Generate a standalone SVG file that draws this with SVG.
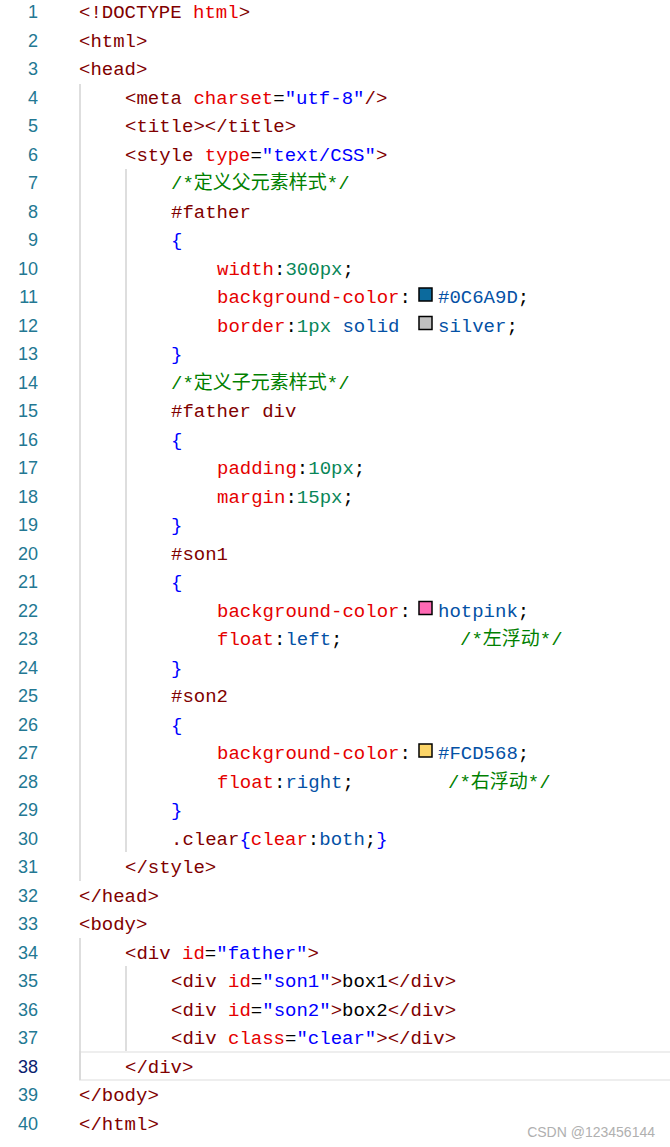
<svg xmlns="http://www.w3.org/2000/svg" width="670" height="1147" viewBox="0 0 670 1147">
<style>
text{font-family:"Liberation Mono","Noto Sans CJK SC",monospace;font-size:19px;white-space:pre}
.n{fill:#237893;font-family:"Liberation Sans",sans-serif;font-size:18px;text-anchor:end}
.t{fill:#800000}.a{fill:#e50000}.s{fill:#0000ff}.c{fill:#008000}.v{fill:#098658}.k{fill:#0451a5}.d{fill:#000}
.g{stroke:#d3d3d3;stroke-width:1.5}
.sw{stroke:#000;stroke-width:1.5}
</style>
<rect width="670" height="1147" fill="#fff"/>
<g id="highlight"><rect x="80" y="1052" width="592" height="28" fill="none" stroke="#eeeeee" stroke-width="2"/></g>
<g id="guides">
<line class="g" x1="80" y1="84" x2="80" y2="881"/>
<line class="g" x1="126" y1="169" x2="126" y2="852"/>
<line class="g" x1="80" y1="938" x2="80" y2="1080"/>
<line class="g" x1="126" y1="966" x2="126" y2="1051"/>
</g>
<g id="numbers">
<text class="n" x="38" y="18">1</text><text class="n" x="38" y="46.5">2</text><text class="n" x="38" y="75">3</text><text class="n" x="38" y="103.5">4</text><text class="n" x="38" y="132">5</text><text class="n" x="38" y="160.5">6</text><text class="n" x="38" y="189">7</text><text class="n" x="38" y="217.5">8</text><text class="n" x="38" y="246">9</text><text class="n" x="38" y="274.5">10</text><text class="n" x="38" y="303">11</text><text class="n" x="38" y="331.5">12</text><text class="n" x="38" y="360">13</text><text class="n" x="38" y="388.5">14</text><text class="n" x="38" y="417">15</text><text class="n" x="38" y="445.5">16</text><text class="n" x="38" y="474">17</text><text class="n" x="38" y="502.5">18</text><text class="n" x="38" y="531">19</text><text class="n" x="38" y="559.5">20</text><text class="n" x="38" y="588">21</text><text class="n" x="38" y="616.5">22</text><text class="n" x="38" y="645">23</text><text class="n" x="38" y="673.5">24</text><text class="n" x="38" y="702">25</text><text class="n" x="38" y="730.5">26</text><text class="n" x="38" y="759">27</text><text class="n" x="38" y="787.5">28</text><text class="n" x="38" y="816">29</text><text class="n" x="38" y="844.5">30</text><text class="n" x="38" y="873">31</text><text class="n" x="38" y="901.5">32</text><text class="n" x="38" y="930">33</text><text class="n" x="38" y="958.5">34</text><text class="n" x="38" y="987">35</text><text class="n" x="38" y="1015.5">36</text><text class="n" x="38" y="1044">37</text><text class="n" x="38" y="1072.5" style="fill:#0b216f">38</text><text class="n" x="38" y="1101">39</text><text class="n" x="38" y="1129.5">40</text>
</g>
<g id="code">
<text x="79" y="18"><tspan class="t">&lt;!DOCTYPE </tspan><tspan class="a">html</tspan><tspan class="t">&gt;</tspan></text>
<text x="79" y="46.5" class="t">&lt;html&gt;</text>
<text x="79" y="75" class="t">&lt;head&gt;</text>
<text x="125" y="103.5"><tspan class="t">&lt;meta </tspan><tspan class="a">charset</tspan><tspan class="d">=</tspan><tspan class="s">"utf-8"</tspan><tspan class="t">/&gt;</tspan></text>
<text x="125" y="132" class="t">&lt;title&gt;&lt;/title&gt;</text>
<text x="125" y="160.5"><tspan class="t">&lt;style </tspan><tspan class="a">type</tspan><tspan class="d">=</tspan><tspan class="s">"text/CSS"</tspan><tspan class="t">&gt;</tspan></text>
<text x="171" y="189" class="c">/*定义父元素样式*/</text>
<text x="171" y="217.5" class="t">#father</text>
<text x="171" y="246" class="s">{</text>
<text x="217" y="274.5"><tspan class="a">width</tspan><tspan class="d">:</tspan><tspan class="v">300px</tspan><tspan class="d">;</tspan></text>
<text x="217" y="303"><tspan class="a">background-color</tspan><tspan class="d">:</tspan></text>
<rect class="sw" x="419" y="288" width="13" height="13" fill="#0C6A9D"/>
<text x="438" y="303"><tspan class="k">#0C6A9D</tspan><tspan class="d">;</tspan></text>
<text x="217" y="331.5"><tspan class="a">border</tspan><tspan class="d">:</tspan><tspan class="v">1px</tspan><tspan class="k"> solid</tspan></text>
<rect class="sw" x="419" y="316.5" width="13" height="13" fill="#c0c0c0"/>
<text x="438" y="331.5"><tspan class="k">silver</tspan><tspan class="d">;</tspan></text>
<text x="171" y="360" class="s">}</text>
<text x="171" y="388.5" class="c">/*定义子元素样式*/</text>
<text x="171" y="417" class="t">#father div</text>
<text x="171" y="445.5" class="s">{</text>
<text x="217" y="474"><tspan class="a">padding</tspan><tspan class="d">:</tspan><tspan class="v">10px</tspan><tspan class="d">;</tspan></text>
<text x="217" y="502.5"><tspan class="a">margin</tspan><tspan class="d">:</tspan><tspan class="v">15px</tspan><tspan class="d">;</tspan></text>
<text x="171" y="531" class="s">}</text>
<text x="171" y="559.5" class="t">#son1</text>
<text x="171" y="588" class="s">{</text>
<text x="217" y="616.5"><tspan class="a">background-color</tspan><tspan class="d">:</tspan></text>
<rect class="sw" x="419" y="601.5" width="13" height="13" fill="hotpink"/>
<text x="438" y="616.5"><tspan class="k">hotpink</tspan><tspan class="d">;</tspan></text>
<text x="217" y="645"><tspan class="a">float</tspan><tspan class="d">:</tspan><tspan class="k">left</tspan><tspan class="d">;</tspan></text>
<text x="460" y="645" class="c">/*左浮动*/</text>
<text x="171" y="673.5" class="s">}</text>
<text x="171" y="702" class="t">#son2</text>
<text x="171" y="730.5" class="s">{</text>
<text x="217" y="759"><tspan class="a">background-color</tspan><tspan class="d">:</tspan></text>
<rect class="sw" x="419" y="744" width="13" height="13" fill="#FCD568"/>
<text x="438" y="759"><tspan class="k">#FCD568</tspan><tspan class="d">;</tspan></text>
<text x="217" y="787.5"><tspan class="a">float</tspan><tspan class="d">:</tspan><tspan class="k">right</tspan><tspan class="d">;</tspan></text>
<text x="448" y="787.5" class="c">/*右浮动*/</text>
<text x="171" y="816" class="s">}</text>
<text x="171" y="844.5"><tspan class="t">.clear</tspan><tspan class="s">{</tspan><tspan class="a">clear</tspan><tspan class="d">:</tspan><tspan class="k">both</tspan><tspan class="d">;</tspan><tspan class="s">}</tspan></text>
<text x="125" y="873" class="t">&lt;/style&gt;</text>
<text x="79" y="901.5" class="t">&lt;/head&gt;</text>
<text x="79" y="930" class="t">&lt;body&gt;</text>
<text x="125" y="958.5"><tspan class="t">&lt;div </tspan><tspan class="a">id</tspan><tspan class="d">=</tspan><tspan class="s">"father"</tspan><tspan class="t">&gt;</tspan></text>
<text x="171" y="987"><tspan class="t">&lt;div </tspan><tspan class="a">id</tspan><tspan class="d">=</tspan><tspan class="s">"son1"</tspan><tspan class="t">&gt;</tspan><tspan class="d">box1</tspan><tspan class="t">&lt;/div&gt;</tspan></text>
<text x="171" y="1015.5"><tspan class="t">&lt;div </tspan><tspan class="a">id</tspan><tspan class="d">=</tspan><tspan class="s">"son2"</tspan><tspan class="t">&gt;</tspan><tspan class="d">box2</tspan><tspan class="t">&lt;/div&gt;</tspan></text>
<text x="171" y="1044"><tspan class="t">&lt;div </tspan><tspan class="a">class</tspan><tspan class="d">=</tspan><tspan class="s">"clear"</tspan><tspan class="t">&gt;&lt;/div&gt;</tspan></text>
<text x="125" y="1072.5" class="t">&lt;/div&gt;</text>
<text x="79" y="1101" class="t">&lt;/body&gt;</text>
<text x="79" y="1129.5" class="t">&lt;/html&gt;</text>
</g>
<text x="655" y="1137" style="font-family:'Liberation Sans',sans-serif;font-size:14px;fill:#b0b0b0;text-anchor:end">CSDN @123456144</text>
</svg>
